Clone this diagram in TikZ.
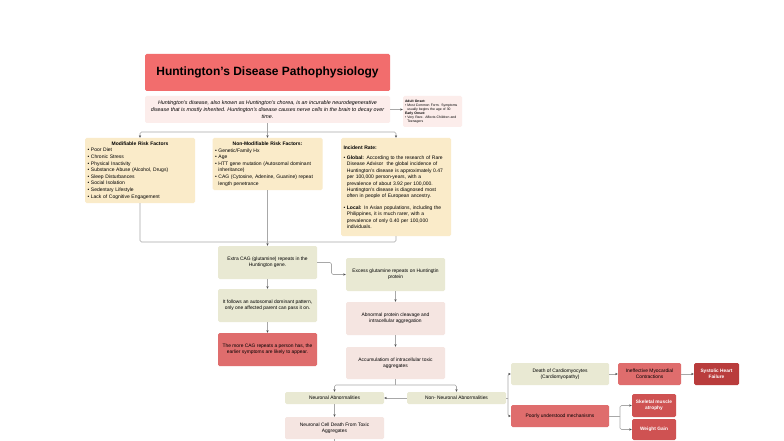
\documentclass[tikz,border=0pt]{standalone}
\usepackage{fontspec}
\setmainfont{Liberation Sans}
\usetikzlibrary{arrows.meta, calc}

\definecolor{titlered}{HTML}{F26D6D}
\definecolor{introbg}{HTML}{FCEDEB}
\definecolor{riskbg}{HTML}{FAEBC9}
\definecolor{olivebg}{HTML}{E9E9D3}
\definecolor{pinkbg}{HTML}{F5E5E1}
\definecolor{redbg}{HTML}{DF6D6D}
\definecolor{deepred}{HTML}{CF5252}
\definecolor{darkred}{HTML}{B93C3C}
\definecolor{linegray}{HTML}{A8A8A8}

\newcommand{\bul}{\textbullet\ }
\newcommand{\bulgap}{\phantom{\textbullet\ }}

\begin{document}
\begin{tikzpicture}[x=1pt, y=-1pt,
    >={Stealth[length=2.6pt, width=2.2pt, color=black!70]},
    line/.style={draw=linegray, line width=0.6pt, rounded corners=1.5pt},
    arr/.style={line, ->},
    box/.style={rounded corners=1.5pt, inner sep=0pt, align=center, font=\fontsize{4.9}{6}\selectfont},
    flow/.style={box, minimum width=99pt, minimum height=33pt},
    small/.style={box, minimum height=22pt},
    list/.style={box, fill=riskbg, minimum width=110pt, text width=105pt, align=left, font=\fontsize{5}{6.6}\selectfont},
    whitebold/.style={text=white, font=\fontsize{4.8}{6}\selectfont\bfseries},
]
    % 0. page
    \useasboundingbox (0,0) rectangle (784,441);
    \fill[white] (0,0) rectangle (784,441);

    % 1. title and introduction
    \node[box, fill=titlered, minimum width=245pt, minimum height=37pt, font=\fontsize{12}{14}\selectfont\bfseries] (title) at (267.5,72.5) {Huntington's Disease Pathophysiology};
    \node[box, fill=introbg, minimum width=245pt, minimum height=27pt, font=\fontsize{5.35}{6.6}\selectfont\itshape] (intro) at (267.5,109.5)
        {Huntington’s disease, also known as Huntington’s chorea, is an incurable neurodegenerative\\
         disease that is mostly inherited. Huntington’s disease causes nerve cells in the brain to decay over\\
         time.};
    \node[box, fill=introbg, minimum width=59pt, minimum height=31pt, text width=55pt, align=left, font=\fontsize{3.4}{3.9}\selectfont] (onset) at (432.5,111.5)
        {\textbf{Adult Onset:}\\
         \bul Most Common Form. Symptoms\\
         \bulgap usually begins the age of 30\\
         \textbf{Early Onset:}\\
         \bul Very Rare. Affects Children and\\
         \bulgap Teenagers};

    % 2. risk factors and incidence
    \node[list, minimum height=65pt] (modif) at (140,170.5)
        {\makebox[105pt]{\bfseries Modifiable Risk Factors}\\
         \bul Poor Diet\\
         \bul Chronic Stress\\
         \bul Physical Inactivity\\
         \bul Substance Abuse (Alcohol, Drugs)\\
         \bul Sleep Disturbances\\
         \bul Social Isolation\\
         \bul Sedentary Lifestyle\\
         \bul Lack of Cognitive Engagement};
    \node[list, minimum height=52pt] (nonmod) at (267.5,164)
        {\makebox[105pt]{\bfseries Non-Modifiable Risk Factors:}\\
         \bul Genetic/Family Hx\\
         \bul Age\\
         \bul HTT gene mutation (Autosomal dominant\\
         \bulgap inheritance)\\
         \bul CAG (Cytosine, Adenine, Guanine) repeat\\
         \bulgap length penetrance};
    \node[list, minimum height=98pt, font=\fontsize{5}{6.4}\selectfont] (incid) at (396,187)
        {\textbf{Incident Rate:}\\[4pt]
         \bul\textbf{Global:} According to the research of Rare\\
         \bulgap Disease Advisor\ \ the global incidence of\\
         \bulgap Huntington's disease is approximately 0.47\\
         \bulgap per 100,000 person-years, with a\\
         \bulgap prevalence of about 3.92 per 100,000.\\
         \bulgap Huntington's disease is diagnosed most\\
         \bulgap often in people of European ancestry.\\[5pt]
         \bul\textbf{Local:} In Asian populations, including the\\
         \bulgap Philippines, it is much rarer, with a\\
         \bulgap prevalence of only 0.40 per 100,000\\
         \bulgap individuals.};

    % 3. genetic chain
    \node[flow, fill=olivebg] (cag) at (267.5,262.5) {Extra CAG (glutamine) repeats in the\\Huntington gene.};
    \node[flow, fill=olivebg] (autosomal) at (267.5,305.5) {It follows an autosomal dominant pattern,\\only one affected parent can pass it on.};
    \node[flow, fill=redbg] (morecag) at (267.5,349.5) {The more CAG repeats a person has, the\\earlier symptoms are likely to appear.};

    % 4. protein chain
    \node[flow, fill=olivebg] (excess) at (395.5,274.5) {Excess glutamine repeats on Huntingtin\\protein};
    \node[flow, fill=pinkbg] (abnormal) at (395.5,318.5) {Abnormal protein cleavage and\\intracellular aggregation};
    \node[flow, fill=pinkbg, minimum height=32pt] (accum) at (395.5,363) {Accumulatiom of intracellular toxic\\aggregates};

    % 5. abnormalities
    \node[box, fill=olivebg, minimum width=99pt, minimum height=12pt] (neuro) at (334.5,398) {Neuronal Abnormalities};
    \node[box, fill=olivebg, minimum width=99pt, minimum height=12pt] (nonneuro) at (456.5,398) {Non- Neuronal Abnormalities};
    \node[small, fill=pinkbg, minimum width=99pt] (celldeath) at (334.5,428) {Neuronal Cell Death From Toxic\\Aggregates};

    % 6. non-neuronal outcomes
    \node[small, fill=olivebg, minimum width=98pt] (cardio) at (560,374) {Death of Cardiomyocytes\\(Cardiomyopathy)};
    \node[small, fill=redbg, minimum width=63pt] (ineff) at (649.5,374) {Ineffective Myocardial\\Contractions};
    \node[small, fill=darkred, minimum width=45pt, whitebold] (systolic) at (716.5,374) {Systolic Heart\\Failure};
    \node[small, fill=redbg, minimum width=98pt] (poorly) at (560,416) {Poorly understood mechanisms};
    \node[box, fill=deepred, minimum width=44pt, minimum height=23pt, whitebold] (skeletal) at (654,405.5) {Skeletal muscle\\atrophy};
    \node[box, fill=deepred, minimum width=44pt, minimum height=21pt, whitebold] (weight) at (654,429.5) {Weight Gain};

    % 7. connectors
    \coordinate (topbus) at (267.5,132);
    \coordinate (lowbus) at (267.5,242);
    \coordinate (split) at (395.5,385);
    \coordinate (fork) at (508,398);
    \coordinate (fork2) at (620,416);
    \coordinate (cut) at (334.5,441);

    \draw[arr] (intro.east) -- (intro.east -| onset.west);
    \draw[line] (intro.south) -- (topbus);
    \draw[arr] (topbus) -| (modif.north);
    \draw[arr] (topbus) -- (nonmod.north);
    \draw[arr] (topbus) -| (incid.north);

    \draw[line] (modif.south) |- (lowbus) -| (incid.south);
    \draw[arr] (nonmod.south) -- (cag.north);
    \draw[arr] (cag.south) -- (autosomal.north);
    \draw[arr] (autosomal.south) -- (morecag.north);
    \draw[arr] (cag.east) -| ($(cag.east)!0.5!(excess.west)$) |- (excess.west);

    \draw[arr] (excess.south) -- (abnormal.north);
    \draw[arr] (abnormal.south) -- (accum.north);
    \draw[line] (accum.south) -- (split);
    \draw[arr] (split) -| (neuro.north);
    \draw[arr] (split) -| (nonneuro.north);
    \draw[arr] (nonneuro.west) -- (neuro.east);
    \draw[arr] (neuro.south) -- (celldeath.north);
    \draw[line] (celldeath.south) -- (cut);

    \draw[line] (nonneuro.east) -- (fork);
    \draw[arr] (fork) |- (cardio.west);
    \draw[arr] (fork) |- (poorly.west);
    \draw[arr] (cardio.east) -- (ineff.west);
    \draw[arr] (ineff.east) -- (systolic.west);
    \draw[line] (poorly.east) -- (fork2);
    \draw[arr] (fork2) |- (skeletal.west);
    \draw[arr] (fork2) |- (weight.west);
\end{tikzpicture}
\end{document}
